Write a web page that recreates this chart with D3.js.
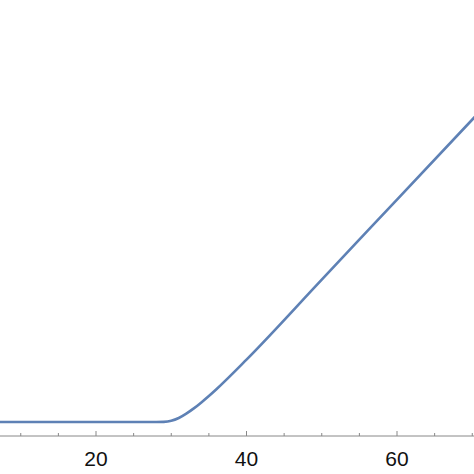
<!DOCTYPE html>
<html><head><meta charset="utf-8">
<script src="https://cdn.jsdelivr.net/npm/d3@7"></script>
<style>body{margin:0;background:#fff}</style>
</head><body>
<svg id="chart" width="474" height="474"></svg>
<script>
// curve values
const xs = [0, 28, 29, 30, 31, 32, 33, 34, 35, 36, 40, 50, 60, 72];
const ys = [0, 0, 0.02, 0.15, 0.5, 1.05, 1.7, 2.45, 3.25, 4.1, 7.8, 17.8, 27.8, 39.8];
const majorTicks = [20, 40, 60];
const minorTicks = [5, 10, 15, 25, 30, 35, 45, 50, 55, 65, 70];

const svg = d3.select("#chart");
const x = d3.scaleLinear().domain([0, 20]).range([-54.5, 96]);
const y = d3.scaleLinear().domain([0, 52.75]).range([422, 0]);
const axisY = 436;

svg.append("line").attr("x1", 0).attr("x2", 474).attr("y1", axisY).attr("y2", axisY)
   .attr("stroke", "#888").attr("stroke-width", 1);
svg.selectAll(".maj").data(majorTicks).enter().append("line")
   .attr("x1", d => x(d)).attr("x2", d => x(d)).attr("y1", axisY).attr("y2", axisY - 5)
   .attr("stroke", "#888");
svg.selectAll(".min").data(minorTicks).enter().append("line")
   .attr("x1", d => x(d)).attr("x2", d => x(d)).attr("y1", axisY).attr("y2", axisY - 3)
   .attr("stroke", "#888");
svg.selectAll(".lab").data(majorTicks).enter().append("text")
   .attr("x", d => x(d)).attr("y", 466).attr("text-anchor", "middle")
   .attr("font-family", "Liberation Sans, Arial, sans-serif").attr("font-size", 21)
   .attr("fill", "#111").text(d => d);

const line = d3.line().x((d, i) => x(xs[i])).y(d => y(d)).curve(d3.curveMonotoneX);
svg.append("path").datum(ys).attr("d", line).attr("fill", "none")
   .attr("stroke", "#5e81b5").attr("stroke-width", 2.6);
</script>
</body></html>
